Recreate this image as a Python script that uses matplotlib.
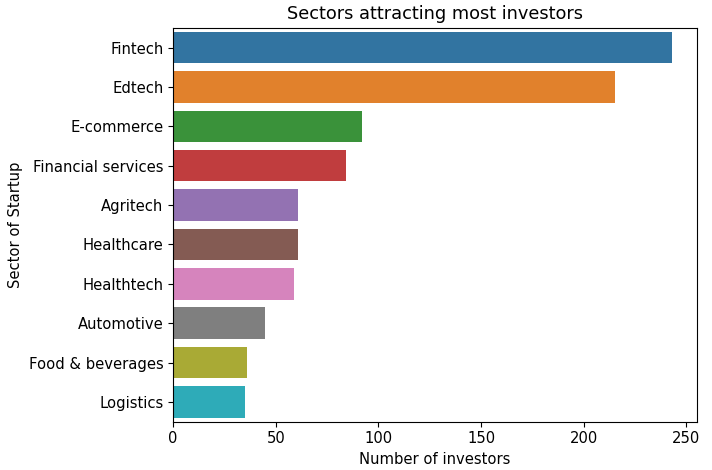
import matplotlib
matplotlib.use('Agg')
import matplotlib.pyplot as plt
import seaborn as sns

# Sector counts
sectors = ['Fintech', 'Edtech', 'E-commerce', 'Financial services', 'Agritech',
           'Healthcare', 'Healthtech', 'Automotive', 'Food & beverages', 'Logistics']
investors = [243, 215, 92, 84, 61, 61, 59, 45, 36, 35]

plt.rcParams['font.size'] = 10.65

fig = plt.figure(figsize=(7.12, 4.7), dpi=100)
ax = fig.add_axes([0.243, 0.1028, 0.736, 0.838])

sns.barplot(x=investors, y=sectors, hue=sectors, palette='tab10',
            legend=False, ax=ax)

ax.set_title('Sectors attracting most investors', fontsize=12.8)
ax.set_xlabel('Number of investors')
ax.set_ylabel('Sector of Startup')

plt.savefig('out.png', dpi=100)
